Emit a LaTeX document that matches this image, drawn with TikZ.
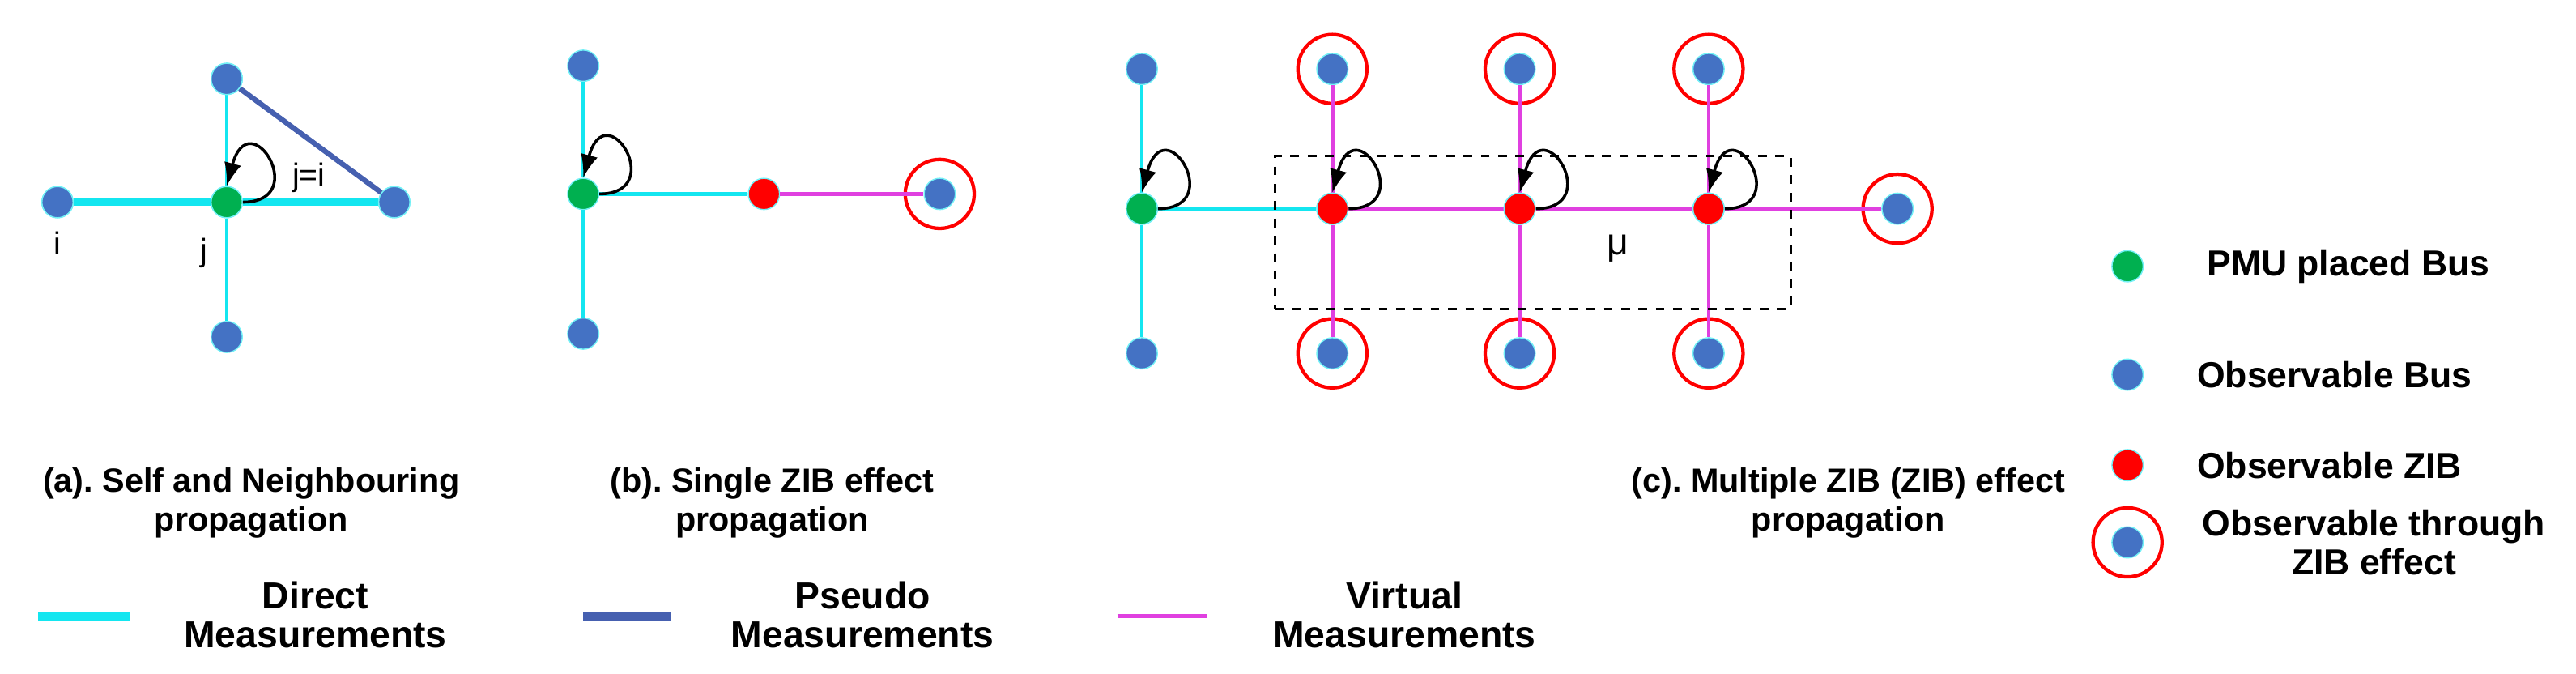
\documentclass[tikz,border=0pt]{standalone}
\usepackage{fontspec}
\setmainfont{Liberation Sans}
\usetikzlibrary{arrows.meta}
\definecolor{cy}{RGB}{20,230,240}
\definecolor{bl}{RGB}{68,114,196}
\definecolor{gr}{RGB}{0,176,80}
\definecolor{rd}{RGB}{255,0,0}
\definecolor{mg}{RGB}{224,64,224}
\definecolor{ps}{RGB}{70,96,176}
\tikzset{
  dot/.style={circle,inner sep=0pt,minimum size=0.38cm,draw=cy!60,line width=0.4pt},
  obus/.style={dot,fill=bl},
  pmu/.style={dot,fill=gr},
  zib/.style={dot,fill=rd},
  ring/.style={circle,draw=rd,line width=1.2pt,minimum size=0.84cm,inner sep=0pt},
  dline/.style={cy,line width=1.3pt},
  dthick/.style={cy,line width=2.6pt},
  vline/.style={mg,line width=1.3pt},
  pline/.style={ps,line width=1.8pt},
  selfloop/.style={-{Latex[length=8pt,width=6pt]},line width=1pt,black},
  captxt/.style={font=\fontsize{11.6}{13.5}\selectfont\bfseries,align=center,inner sep=0pt},
  legtxt/.style={font=\fontsize{12.5}{13.5}\selectfont\bfseries,align=center,inner sep=0pt},
  legbtxt/.style={font=\fontsize{13}{13.5}\selectfont\bfseries,align=center,inner sep=0pt},
  lbltxt/.style={font=\fontsize{11}{12}\selectfont,inner sep=0pt}
}
\newcommand{\mkloop}[1]{\draw[selfloop] (#1.east) .. controls +(42,0) and +(14,-52) .. (#1.north);}
\begin{document}
\frenchspacing
\begin{tikzpicture}[x=0.02cm,y=-0.02cm]
\useasboundingbox (0,0) rectangle (1568,410);
% (a)
\node[obus] (ai) at (35,123) {};
\node[pmu] (aj) at (138,123) {};
\node[obus] (at) at (138,48) {};
\node[obus] (ab) at (138,205) {};
\node[obus] (ar) at (240,123) {};
\draw[dthick] (ai) -- (aj) -- (ar);
\draw[dline] (at) -- (aj) -- (ab);
\draw[pline] (at) -- (ar);
\node[obus] at (at) {};\node[obus] at (ar) {};\node[pmu] at (aj) {};\node[obus] at (ai) {};
\mkloop{aj}
\node[lbltxt] (li) at (35,148) {i};
\node[lbltxt] (lj) at (124,154) {j};
\node[lbltxt] (lji) at (188,108) {j=i};
% (b)
\node[obus] (bt) at (355,40) {};
\node[pmu] (bg) at (355,118) {};
\node[obus] (bb) at (355,203) {};
\node[zib] (br) at (465,118) {};
\node[obus] (bo) at (572,118) {};
\node[ring] (bor) at (572,118) {};
\draw[dline] (bt) -- (bg) -- (bb);
\draw[dline] (bg) -- (br);
\draw[vline] (br) -- (bo);
\mkloop{bg}
% (c)
\node[pmu] (cg) at (695,127) {};
\node[obus] (ct) at (695,42) {};
\node[obus] (cb) at (695,215) {};
\draw[dline] (ct) -- (cg) -- (cb);
\foreach \k/\x in {1/811,2/925,3/1040}{
  \node[zib] (cz\k) at (\x,127) {};
  \node[obus] (cu\k) at (\x,42) {};
  \node[ring] (cur\k) at (\x,42) {};
  \node[obus] (cd\k) at (\x,215) {};
  \node[ring] (cdr\k) at (\x,215) {};
  \draw[vline] (cu\k) -- (cz\k) -- (cd\k);
}
\node[obus] (co) at (1155,127) {};
\node[ring] (cor) at (1155,127) {};
\draw[dline] (cg) -- (cz1);
\draw[vline] (cz1) -- (cz2) -- (cz3) -- (co);
\foreach \k in {1,2,3}{
  \node[zib] at (cz\k) {};
  \mkloop{cz\k}
}
\node[pmu] at (cg) {};
\mkloop{cg}
\node[draw,dashed,line width=0.9pt,minimum width=314*0.02cm,minimum height=93*0.02cm,inner sep=0pt] (box) at (933,141.5) {};
\node[lbltxt,font=\fontsize{13}{14}\selectfont] (mu) at (985,151) {μ};
% captions
\node[captxt] (capa) at (153,306) {(a). Self and Neighbouring\\propagation};
\node[captxt] (capb) at (470,306) {(b). Single ZIB effect\\propagation};
\node[captxt] (capc) at (1125,306) {(c). Multiple ZIB (ZIB) effect\\propagation};
% bottom legend
\coordinate (l1a) at (23,375); \coordinate (l1b) at (79,375);
\draw[cy,line width=3pt] (l1a) -- (l1b);
\node[legbtxt] (t1) at (192,374) {Direct\\Measurements};
\coordinate (l2a) at (355,375); \coordinate (l2b) at (408,375);
\draw[ps,line width=3pt] (l2a) -- (l2b);
\node[legbtxt] (t2) at (525,374) {Pseudo\\Measurements};
\coordinate (l3a) at (680,375); \coordinate (l3b) at (735,375);
\draw[mg,line width=1.5pt] (l3a) -- (l3b);
\node[legbtxt] (t3) at (855,374) {Virtual\\Measurements};
% right legend
\node[pmu] (k1) at (1295,162) {};
\node[legtxt,anchor=west] (k1t) at (1343,162) {PMU placed Bus};
\node[obus] (k2) at (1295,228) {};
\node[legtxt,anchor=west] (k2t) at (1337,228) {Observable Bus};
\node[zib] (k3) at (1295,283) {};
\node[legtxt,anchor=west] (k3t) at (1337,283) {Observable ZIB};
\node[obus] (k4) at (1295,330) {};
\node[ring] (k4r) at (1295,330) {};
\node[legtxt] (k4t) at (1445,330) {Observable through\\ZIB effect};
\end{tikzpicture}
\end{document}
